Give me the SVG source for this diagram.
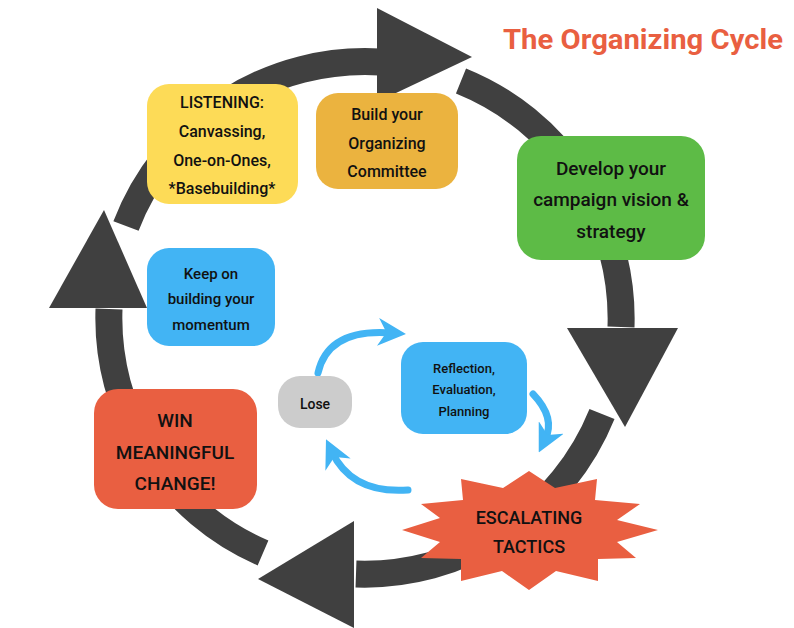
<svg xmlns="http://www.w3.org/2000/svg" width="794" height="628" viewBox="0 0 794 628">
<defs>
<style>
.ring{fill:none;stroke:#404040;stroke-width:27}
.head{fill:#404040}
.t{font-family:Roboto,"Liberation Sans",sans-serif;font-weight:500;fill:#111;text-anchor:middle}
.ba{fill:none;stroke:#42B4F4;stroke-width:7;stroke-linecap:round}
</style>
<marker id="bh" viewBox="0 0 10 10" refX="5" refY="5" markerWidth="4" markerHeight="4" orient="auto" markerUnits="strokeWidth">
<path d="M0,0 L10,5 L0,10 L3,5 Z" fill="#42B4F4"/>
</marker>
</defs>
<rect width="794" height="628" fill="#fff"/>
<g id="connectors">
<path class="ring" d="M126 226 A256 256 0 0 1 380 62"/>
<polygon class="head" points="377,8 377,102 472,57"/>
<path class="ring" d="M461 81 A256 256 0 0 1 621 327"/>
<polygon class="head" points="567,328 678,328 625,427"/>
<path class="ring" d="M602 414 A256 256 0 0 1 356 574"/>
<polygon class="head" points="354,521 354,628 258,579"/>
<path class="ring" d="M263 553 A256 256 0 0 1 109 309"/>
<polygon class="head" points="49,308 147,308 104,210"/>
<path class="ba" d="M318 373 Q328 328 392 333" marker-end="url(#bh)"/>
<path class="ba" d="M533 394 Q556 418 545 440" marker-end="url(#bh)"/>
<path class="ba" d="M408 490 Q352 494 332 452" marker-end="url(#bh)"/>
</g>
<text x="503" y="49" textLength="280" lengthAdjust="spacingAndGlyphs" font-family="Roboto,'Liberation Sans',sans-serif" font-weight="700" font-size="28" fill="#E95F41">The Organizing Cycle</text>
<g id="listening">
<rect x="147" y="84" width="151" height="120" rx="22" fill="#FDDB57"/>
<text class="t" font-size="16"><tspan x="222" y="108">LISTENING:</tspan><tspan x="222" y="137">Canvassing,</tspan><tspan x="222" y="166">One-on-Ones,</tspan><tspan x="222" y="194">*Basebuilding*</tspan></text>
</g>
<g id="build">
<rect x="316" y="93" width="142" height="96" rx="22" fill="#EBB33F"/>
<text class="t" font-size="16"><tspan x="387" y="120">Build your</tspan><tspan x="387" y="149">Organizing</tspan><tspan x="387" y="177">Committee</tspan></text>
</g>
<g id="develop">
<rect x="517" y="136" width="188" height="124" rx="24" fill="#5DBB46"/>
<text class="t" font-size="19"><tspan x="611" y="175">Develop your</tspan><tspan x="611" y="206">campaign vision &amp;</tspan><tspan x="611" y="238">strategy</tspan></text>
</g>
<g id="keep">
<rect x="147" y="248" width="128" height="98" rx="22" fill="#42B4F4"/>
<text class="t" font-size="15"><tspan x="211" y="279">Keep on</tspan><tspan x="211" y="304">building your</tspan><tspan x="211" y="330">momentum</tspan></text>
</g>
<g id="win">
<rect x="94" y="389" width="163" height="120" rx="24" fill="#E95F41"/>
<text class="t" font-size="19"><tspan x="175" y="427">WIN</tspan><tspan x="175" y="459">MEANINGFUL</tspan><tspan x="175" y="490">CHANGE!</tspan></text>
</g>
<g id="lose">
<rect x="278" y="376" width="74" height="52" rx="22" fill="#CCCCCC"/>
<text class="t" font-size="14" x="315" y="409">Lose</text>
</g>
<g id="reflection">
<rect x="401" y="342" width="126" height="92" rx="22" fill="#42B4F4"/>
<text class="t" font-size="13"><tspan x="464" y="373">Reflection,</tspan><tspan x="464" y="394">Evaluation,</tspan><tspan x="464" y="416">Planning</tspan></text>
</g>
<g id="escalating">
<polygon fill="#E95F41" points="529,471 555,488 597,479 595,500 640,504 617,520 658,530 617,542 636,558 598,559 598,581 556,571 529,590 502,571 461,581 461,559 421,558 440,542 402,530 440,518 421,504 463,500 461,479 503,488"/>
<text class="t" font-size="18"><tspan x="529" y="524">ESCALATING</tspan><tspan x="529" y="553">TACTICS</tspan></text>
</g>
</svg>
